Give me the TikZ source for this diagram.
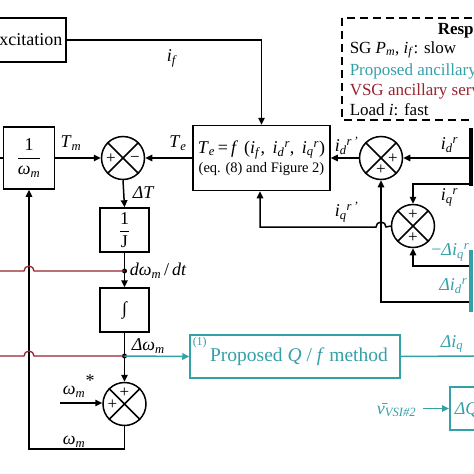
\documentclass[tikz,border=0pt]{standalone}
\usepackage{fontspec}
\setmainfont{Liberation Serif}
\usetikzlibrary{arrows.meta,calc}
\definecolor{tealc}{RGB}{52,160,168}
\definecolor{dredc}{RGB}{150,35,45}
\newcommand{\vsym}[3]{\textit{#1}\textsubscript{\textit{#2}}\textsuperscript{\textit{#3}}}
\newcommand{\vsb}[2]{\textit{#1}\textsubscript{\textit{#2}}}
\begin{document}
\begin{tikzpicture}[x=1pt,y=-1pt,line width=1.5pt,
  >={Triangle[length=7pt,width=6.5pt]},
  font=\fontsize{18}{20}\selectfont,
  blk/.style={draw,line width=1.5pt,inner sep=0pt},
  sumc/.style={draw,circle,line width=1.5pt,minimum size=43pt,inner sep=0pt},
  sgn/.style={font=\fontsize{17}{17}\selectfont,inner sep=0pt},
  lbl/.style={inner sep=0pt},
  leg/.style={inner sep=0pt,anchor=west,font=\fontsize{17}{19}\selectfont},
  tl/.style={draw=tealc,line width=1.5pt},
  rl/.style={draw=dredc,line width=1.3pt},
  dotn/.style={circle,fill,inner sep=0pt,minimum size=5pt}]
\useasboundingbox (0,0) rectangle (474,474);

% boxes
\node[blk,minimum width=76pt,minimum height=44pt] (exc) at (28,40) {};
\node[lbl,anchor=east] (exct) at (63,40) {Excitation};
\node[blk,minimum width=51pt,minimum height=62pt] (rec) at (29,158)
  {$\displaystyle\frac{\hbox{1}}{\hbox{\itshape ω\textsubscript{m}}}$};
\node[blk,minimum width=137pt,minimum height=65pt,align=center] (te) at (261.5,158)
  {\vsb{T}{e}\,=\,\textit{f}\,\,(\vsb{i}{f}, \,\vsym{i}{d}{r}, \,\vsym{i}{q}{r})\\[-1pt]
   {\fontsize{14.5}{16}\selectfont (eq. (8) and Figure 2)}};
\node[blk,minimum width=49pt,minimum height=44pt] (jb) at (124.5,230)
  {$\displaystyle\frac{\hbox{1}}{\hbox{J}}$};
\node[blk,minimum width=49pt,minimum height=44pt] (ib) at (124.5,310) {∫};
\node[blk,draw=tealc,text=tealc,minimum width=210pt,minimum height=43pt,
  font=\fontsize{19.5}{21}\selectfont] (qf) at (295,356.5)
  {\hspace*{8pt}Proposed \textit{Q} / \textit{f} method};
\node[text=tealc,font=\fontsize{12}{12}\selectfont,anchor=north west,inner sep=0pt] (n1) at (192,336) {(1)};
\node[blk,draw=tealc,minimum width=60pt,minimum height=43pt,anchor=west] (dq) at (449,408.5) {};
\node[lbl,text=tealc,anchor=west] (dqt) at (454,410) {\textit{ΔQ}};

% sum junctions
\node[sumc] (s1) at (123,158) {};
\node[sumc] (s2) at (124.5,404) {};
\node[sumc] (s3) at (381,158) {};
\node[sumc] (s4) at (413,226) {};
\foreach \s in {s1,s2,s3,s4}{
  \draw (\s.north west) -- (\s.south east) (\s.north east) -- (\s.south west);}
\node[sgn] at ($(s1.center)+(-12,1)$) {+};
\node[sgn] at ($(s1.center)+(12,1)$) {−};
\node[sgn] at ($(s2.center)+(0,-11)$) {+};
\node[sgn] at ($(s2.center)+(-12,1)$) {+};
\node[sgn] at ($(s3.center)+(12,1)$) {+};
\node[sgn] at ($(s3.center)+(0,12)$) {+};
\node[sgn] at ($(s4.center)+(0,-11)$) {+};
\node[sgn] at ($(s4.center)+(0,12)$) {+};

% coordinates
\coordinate (inL) at (0,158);
\coordinate (excc) at (te.north |- exc.east);
\node[dotn] (d1) at (124.5,271) {};
\node[dotn] (d2) at (124.5,356) {};
\coordinate (b1) at (124.5,449);
\coordinate (b2) at (29,449);
\coordinate (r1) at (0,271);
\coordinate (r2) at (0,356);
\coordinate (idR) at (470,158);
\coordinate (iqR) at (470,184);
\coordinate (iqC) at (413,184);
\coordinate (dqR) at (470,266);
\coordinate (dqC) at (413,266);
\coordinate (ddR) at (470,302);
\coordinate (ddC) at (381,302);
\coordinate (tq) at (260,227);
\coordinate (qR) at (474,356);
\coordinate (vS) at (423,408.5);

% connectors
\draw (inL) -- (rec.west);
\draw[->] (exc.east) -- (excc) -- (te.north);
\draw[->] (rec.east) -- (s1.west);
\draw[->] (te.west) -- (s1.east);
\draw[->] (s1.south) -- (jb.north);
\draw[->] (jb.south) -- (ib.north);
\draw (ib.south) -- (d2.center);
\draw[->] (d2.center) -- (s2.north);
\draw[->] (s2.south) -- (b1) -- (b2) -- (rec.south);
\coordinate (wst) at (60,403);
\draw[->] (wst) -- (s2.west |- wst);
\draw[rl] (r1) -- (24,271) arc[start angle=180,end angle=360,radius=5] -- (d1.center);
\draw[rl] (r2) -- (24,356) arc[start angle=180,end angle=360,radius=5] -- (d2.center);
\draw[tl,->] (d2.center) -- (qf.west);
\draw[tl] (qf.east) -- (qR);
\draw[tl,->] (vS) -- (dq.west);

\draw[->] (s3.west) -- (te.east);
\draw[->] (idR) -- (s3.east);
\draw[->] (iqR) -- (iqC) -- (s4.north);
\draw[->] (dqR) -- (dqC) -- (s4.south);
\draw[->] (ddR) -- (ddC) -- (s3.south);
\draw[->] (s4.west) -- (386,227) arc[start angle=0,end angle=-180,radius=5] -- (tq) -- (te.south -| tq);
\draw[line width=3.5pt] (471,128) -- (471,186);
\draw[tealc,line width=3.5pt] (471,250) -- (471,312);

% labels
\node[lbl] at (172,58) {\vsb{i}{f}};
\node[lbl] at (71,143) {\vsb{T}{m}};
\node[lbl] at (178,143) {\vsb{T}{e}};
\node[lbl,anchor=west] at (132,193) {\textit{ΔT}};
\node[lbl,anchor=west] at (129,271) {\textit{d}\vsb{ω}{m}\,/\,\textit{dt}};
\node[lbl,anchor=west] at (131,346) {\textit{Δ}\vsb{ω}{m}};
\node[lbl] at (74,392) {\vsb{ω}{m}};
\node[lbl] at (90,381) {*};
\node[lbl] at (74,442) {\vsb{ω}{m}};
\node[lbl,anchor=west] at (334,146) {\vsym{i}{d}{r\,'}};
\node[lbl,anchor=west] at (334,212) {\vsym{i}{q}{r\,'}};
\node[lbl,anchor=west] at (440,145) {\vsym{i}{d}{r}};
\node[lbl,anchor=west] at (440,197) {\vsym{i}{q}{r}};
\node[lbl,anchor=east,text=tealc] at (470,252) {−\textit{Δ}\vsym{i}{q}{r}};
\node[lbl,anchor=east,text=tealc] at (468,286) {\textit{Δ}\vsym{i}{d}{r}};
\node[lbl,anchor=west,text=tealc] at (440,344) {\textit{Δ}\vsb{i}{q}};
\node[lbl,anchor=east,text=tealc] at (417,410) {\={\textit{v}}\textsubscript{\textit{VSI\#2}}};

% legend
\draw[line width=1.2pt,dash pattern=on 8pt off 5pt] (342,18) rectangle (500,120);
\node[leg] at (437,31) {\textbf{Response}};
\node[leg] at (349,50) {SG \vsb{P}{m}, \vsb{i}{f}: slow};
\node[leg,text=tealc] at (349,71) {Proposed ancillary services};
\node[leg,text=dredc] at (349,91) {VSG ancillary services};
\node[leg] at (349,110) {Load \textit{i}: fast};
\end{tikzpicture}
\end{document}
